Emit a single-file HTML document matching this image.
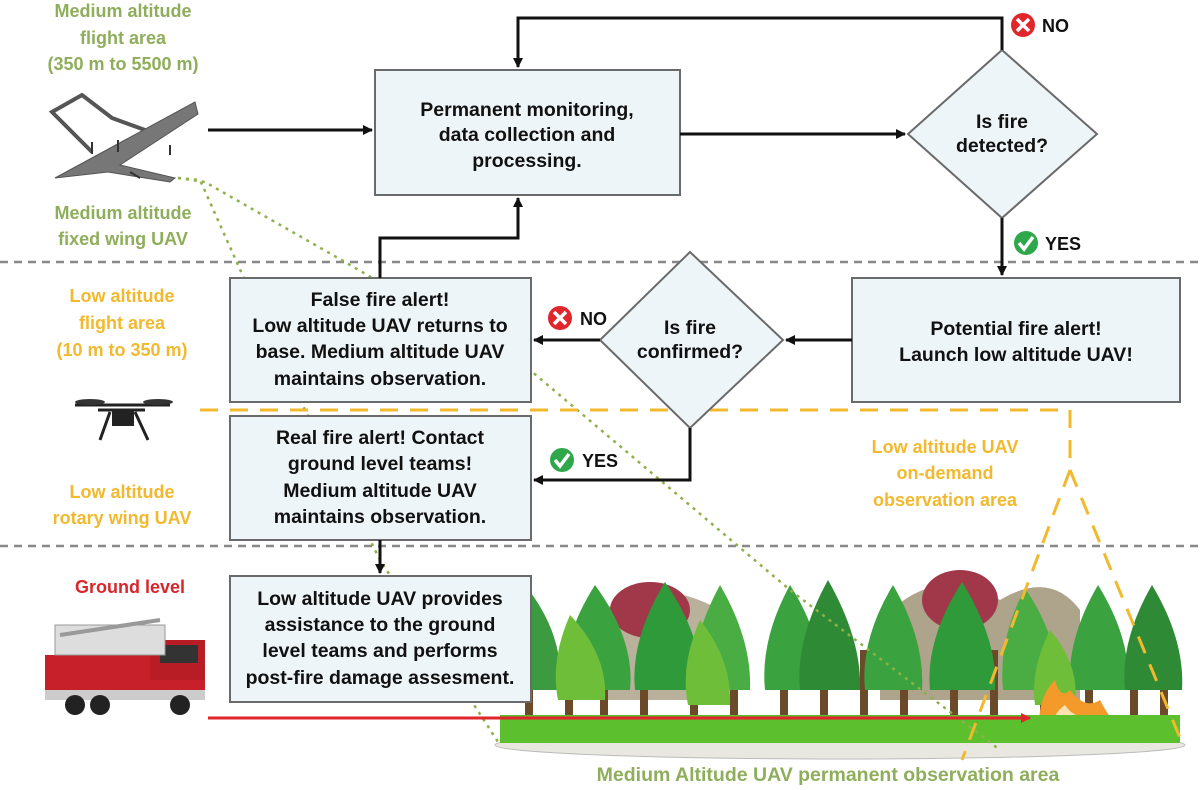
<!DOCTYPE html>
<html><head><meta charset="utf-8"><style>
html,body{margin:0;padding:0;background:#fff;}
svg{display:block;}
text{font-family:"Liberation Sans",sans-serif;font-weight:bold;}
</style></head><body>
<svg width="1200" height="790" viewBox="0 0 1200 790" xmlns="http://www.w3.org/2000/svg">
<defs>
<marker id="ah" markerWidth="10" markerHeight="10" refX="9" refY="5" orient="auto" markerUnits="userSpaceOnUse"><path d="M0,0 L10,5 L0,10 z" fill="#111"/></marker>
<marker id="rh" markerWidth="10" markerHeight="10" refX="9" refY="5" orient="auto" markerUnits="userSpaceOnUse"><path d="M0,0 L10,5 L0,10 z" fill="#e0262a"/></marker>
</defs>

<line x1="0" y1="262" x2="1200" y2="262" stroke="#888" stroke-width="2.5" stroke-dasharray="8,6"/>
<line x1="0" y1="546" x2="1200" y2="546" stroke="#888" stroke-width="2.5" stroke-dasharray="8,6"/>

<!-- forest -->
<ellipse cx="840" cy="745" rx="345" ry="14" fill="#e8e8e0" stroke="#bbb"/>
<g>
<path d="M880,620 Q940,560 1000,600 Q1050,570 1080,610 L1080,700 L880,700z" fill="#8a7d5a" opacity="0.7"/>
<path d="M590,620 Q650,570 720,610 L720,700 L590,700z" fill="#8a7d5a" opacity="0.6"/>
<ellipse cx="650" cy="610" rx="40" ry="28" fill="#a0384a"/>
<ellipse cx="960" cy="600" rx="38" ry="30" fill="#a0384a"/>
</g>
<g fill="#6b4a2a">
<rect x="525" y="650" width="8" height="70"/><rect x="565" y="650" width="8" height="70"/><rect x="600" y="650" width="8" height="70"/><rect x="640" y="650" width="8" height="70"/><rect x="690" y="650" width="8" height="70"/><rect x="730" y="650" width="8" height="70"/><rect x="780" y="650" width="8" height="70"/><rect x="820" y="650" width="8" height="70"/><rect x="860" y="650" width="8" height="70"/><rect x="900" y="650" width="8" height="70"/><rect x="950" y="650" width="8" height="70"/><rect x="990" y="650" width="8" height="70"/><rect x="1040" y="650" width="8" height="70"/><rect x="1085" y="650" width="8" height="70"/><rect x="1130" y="650" width="8" height="70"/><rect x="1160" y="650" width="8" height="70"/>
</g>
<g>
<path d="M525,585 Q495,640 500,690 L560,690 Q565,635 525,585z" fill="#3c9a40"/>
<path d="M595,585 Q560,640 565,690 L630,690 Q635,640 595,585z" fill="#3aa23e"/>
<path d="M570,615 Q550,660 558,700 L605,700 Q608,655 570,615z" fill="#6fbe3a"/>
<path d="M665,582 Q630,640 635,690 L700,690 Q705,640 665,582z" fill="#2f9a3a"/>
<path d="M720,585 Q690,640 693,690 L750,690 Q752,640 720,585z" fill="#49ad44"/>
<path d="M700,620 Q680,665 688,705 L730,705 Q732,660 700,620z" fill="#6fbe3a"/>
<path d="M790,585 Q760,640 765,690 L820,690 Q825,640 790,585z" fill="#3aa23e"/>
<path d="M828,580 Q795,640 800,690 L860,690 Q862,640 828,580z" fill="#2f8a36"/>
<path d="M893,585 Q860,640 865,690 L922,690 Q925,640 893,585z" fill="#3aa23e"/>
<path d="M962,582 Q925,640 930,690 L995,690 Q998,640 962,582z" fill="#2f9a3a"/>
<path d="M1025,588 Q998,640 1003,690 L1058,690 Q1060,640 1025,588z" fill="#49ad44"/>
<path d="M1098,585 Q1066,640 1070,690 L1128,690 Q1132,640 1098,585z" fill="#3aa23e"/>
<path d="M1152,585 Q1120,640 1125,690 L1182,690 Q1185,640 1152,585z" fill="#2f8a36"/>
<path d="M1050,630 Q1030,670 1035,705 L1075,705 Q1080,665 1050,630z" fill="#6fbe3a"/>
</g>
<path d="M1040,740 Q1035,700 1055,680 Q1060,700 1070,690 Q1085,710 1100,700 Q1110,720 1130,740z" fill="#f39a2a"/>
<path d="M1050,740 Q1050,715 1065,705 Q1075,720 1090,715 Q1100,730 1115,740z" fill="#fbe2b0"/>
<rect x="500" y="715" width="680" height="28" fill="#5cbf2e"/>

<!-- green dotted lines -->
<polyline points="178,178 200,180 285,370 380,560 500,745" fill="none" stroke="#8fb04a" stroke-width="2.5" stroke-dasharray="3,5"/>
<polyline points="178,178 205,182 345,262 530,370 790,590 1000,750" fill="none" stroke="#8fb04a" stroke-width="2.5" stroke-dasharray="3,5"/>

<!-- yellow dashed -->
<polyline points="200,410 1070,410 1070,470" fill="none" stroke="#f2b92e" stroke-width="3" stroke-dasharray="18,12"/>
<line x1="1070" y1="470" x2="962" y2="760" stroke="#f2b92e" stroke-width="3" stroke-dasharray="18,12"/>
<line x1="1070" y1="470" x2="1180" y2="738" stroke="#f2b92e" stroke-width="3" stroke-dasharray="18,12"/>

<line x1="208" y1="718" x2="1030" y2="718" stroke="#e0262a" stroke-width="3" marker-end="url(#rh)"/>

<g fill="#eef5f9" stroke="#6a6a6a" stroke-width="2">
<rect x="375" y="70" width="305" height="125"/>
<rect x="852" y="278" width="328" height="124"/>
<rect x="230" y="278" width="301" height="124"/>
<rect x="230" y="416" width="301" height="124"/>
<rect x="230" y="576" width="301" height="126"/>
<polygon points="1002,50 1097,134 1002,218 908,134"/>
<polygon points="690,252 783,340 690,428 600,340"/>
</g>

<g stroke="#111" stroke-width="3" fill="none">
<line x1="208" y1="130" x2="372" y2="130" marker-end="url(#ah)"/>
<line x1="680" y1="134" x2="905" y2="134" marker-end="url(#ah)"/>
<polyline points="1002,50 1002,18 518,18 518,67" marker-end="url(#ah)"/>
<line x1="1002" y1="218" x2="1002" y2="275" marker-end="url(#ah)"/>
<line x1="852" y1="340" x2="786" y2="340" marker-end="url(#ah)"/>
<line x1="600" y1="340" x2="534" y2="340" marker-end="url(#ah)"/>
<polyline points="380,278 380,238 518,238 518,198" marker-end="url(#ah)"/>
<polyline points="690,428 690,480 534,480" marker-end="url(#ah)"/>
<line x1="380" y1="540" x2="380" y2="573" marker-end="url(#ah)"/>
</g>

<g>
<circle cx="1023" cy="25" r="12" fill="#e0262a"/><path d="M1017,19 L1029,31 M1029,19 L1017,31" stroke="#fff" stroke-width="3.5"/>
<text x="1042" y="32" font-size="18" fill="#111">NO</text>
<circle cx="1026" cy="243" r="12" fill="#2ea84a"/><path d="M1019,243 L1024,249 L1033,237" stroke="#fff" stroke-width="3.5" fill="none"/>
<text x="1045" y="250" font-size="18" fill="#111">YES</text>
<circle cx="560" cy="318" r="12" fill="#e0262a"/><path d="M554,312 L566,324 M566,312 L554,324" stroke="#fff" stroke-width="3.5"/>
<text x="580" y="325" font-size="18" fill="#111">NO</text>
<circle cx="562" cy="460" r="12" fill="#2ea84a"/><path d="M555,460 L560,466 L569,454" stroke="#fff" stroke-width="3.5" fill="none"/>
<text x="582" y="467" font-size="18" fill="#111">YES</text>
</g>

<g font-size="19.5" fill="#111" text-anchor="middle">
<text x="527" y="116">Permanent monitoring,</text>
<text x="527" y="141">data collection and</text>
<text x="527" y="167">processing.</text>
<text x="1002" y="128">Is fire</text>
<text x="1002" y="152">detected?</text>
<text x="690" y="334">Is fire</text>
<text x="690" y="358">confirmed?</text>
<text x="1016" y="335">Potential fire alert!</text>
<text x="1016" y="361">Launch low altitude UAV!</text>
<text x="380" y="306">False fire alert!</text>
<text x="380" y="332">Low altitude UAV returns to</text>
<text x="380" y="358">base. Medium altitude UAV</text>
<text x="380" y="385">maintains observation.</text>
<text x="380" y="444">Real fire alert! Contact</text>
<text x="380" y="470">ground level teams!</text>
<text x="380" y="497">Medium altitude UAV</text>
<text x="380" y="523">maintains observation.</text>
<text x="380" y="605">Low altitude UAV provides</text>
<text x="380" y="631">assistance to the ground</text>
<text x="380" y="657">level teams and performs</text>
<text x="380" y="684">post-fire damage assesment.</text>
</g>

<g font-size="18" text-anchor="middle">
<g fill="#8fae5c">
<text x="123" y="17">Medium altitude</text>
<text x="123" y="44">flight area</text>
<text x="123" y="70">(350 m to 5500 m)</text>
<text x="123" y="219">Medium altitude</text>
<text x="123" y="245">fixed wing UAV</text>
<text x="828" y="781" font-size="19.5">Medium Altitude UAV permanent observation area</text>
</g>
<g fill="#f2b92e">
<text x="122" y="302">Low altitude</text>
<text x="122" y="329">flight area</text>
<text x="122" y="356">(10 m to 350 m)</text>
<text x="122" y="498">Low altitude</text>
<text x="122" y="524">rotary wing UAV</text>
<text x="945" y="453">Low altitude UAV</text>
<text x="945" y="479">on-demand</text>
<text x="945" y="506">observation area</text>
</g>
<text x="130" y="593" fill="#d8262a">Ground level</text>
</g>

<g stroke="#555" fill="none" stroke-width="4">
<polyline points="92,152 52,112 82,95 112,118 145,130"/>
</g>
<path d="M55,178 L195,102 L198,114 L120,165 L175,178 L170,182 L108,172 Z" fill="#777" stroke="#555"/>
<g stroke="#333" stroke-width="2"><line x1="118" y1="140" x2="118" y2="152"/><line x1="170" y1="145" x2="170" y2="155"/><line x1="130" y1="172" x2="140" y2="178"/><line x1="92" y1="142" x2="92" y2="154"/></g>

<g stroke="#222" stroke-width="3" fill="none">
<line x1="75" y1="405" x2="170" y2="405"/>
<line x1="98" y1="410" x2="145" y2="410"/>
<path d="M110,412 L100,440 M135,412 L148,440 M115,420 L130,420"/>
</g>
<rect x="112" y="410" width="22" height="16" fill="#222"/>
<ellipse cx="90" cy="402" rx="15" ry="3" fill="#333"/><ellipse cx="158" cy="402" rx="15" ry="3" fill="#333"/>

<g>
<rect x="45" y="655" width="160" height="45" fill="#c8202a"/>
<rect x="150" y="640" width="55" height="40" fill="#b81c25"/>
<rect x="160" y="645" width="38" height="18" fill="#333"/>
<rect x="55" y="625" width="110" height="30" fill="#ddd" stroke="#999"/>
<line x1="60" y1="635" x2="160" y2="620" stroke="#999" stroke-width="4"/>
<rect x="45" y="690" width="160" height="10" fill="#ccc"/>
<circle cx="75" cy="705" r="10" fill="#222"/><circle cx="100" cy="705" r="10" fill="#222"/><circle cx="180" cy="705" r="10" fill="#222"/>
</g>
</svg>
</body></html>
